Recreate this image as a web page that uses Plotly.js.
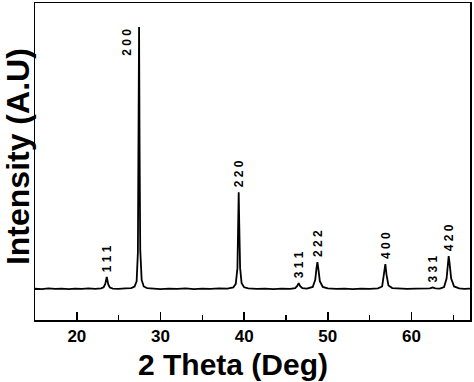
<!DOCTYPE html>
<html>
<head>
<meta charset="utf-8">
<script src="https://cdn.plot.ly/plotly-3.0.1.min.js"></script>
<style>html,body{margin:0;padding:0;background:#fff;}#chart{width:474px;height:382px;}</style>
</head>
<body>
<div id="chart"></div>
<script>
// XRD pattern: 2θ (deg) vs intensity (arbitrary units, baseline = 0)
var twoTheta = [
  15.0, 15.8, 16.6, 17.4, 18.2, 19.0, 19.8, 20.6, 21.4, 22.2,
  22.9, 23.2, 23.4, 23.58, 23.76, 23.95, 24.3, 25.0, 25.8, 26.5,
  26.9, 27.15, 27.3, 27.38, 27.44, 27.5, 27.58, 27.75, 28.0, 28.4,
  29.2, 30.0, 31.0, 32.0, 33.0, 34.0, 35.0, 36.0, 37.0, 38.0,
  38.7, 39.0, 39.2, 39.3, 39.35, 39.42, 39.52, 39.7, 40.0, 40.5,
  41.5, 42.5, 43.5, 44.5, 45.5, 46.1, 46.35, 46.52, 46.7, 46.95,
  47.5, 48.2, 48.5, 48.65, 48.76, 48.88, 49.05, 49.4, 50.0, 51.0,
  52.0, 53.0, 54.0, 55.0, 56.0, 56.5, 56.72, 56.88, 57.02, 57.25,
  57.7, 58.5, 59.5, 60.5, 61.5, 62.2, 62.53, 62.85, 63.4, 63.9,
  64.2, 64.35, 64.45, 64.57, 64.75, 65.1, 65.7, 66.3, 67.0
];
var intensity = [
  2, 0, 3, 1, 2, 0, 2, 1, 3, 1,
  3, 7, 20, 46, 18, 6, 2, 1, 3, 4,
  10, 30, 140, 520, 1000, 540, 150, 35, 10, 4,
  2, 0, 2, 1, 3, 0, 2, 1, 3, 2,
  6, 20, 80, 250, 370, 240, 80, 22, 7, 3,
  1, 2, 0, 2, 1, 4, 12, 23, 11, 4,
  2, 8, 35, 80, 103, 75, 30, 8, 3, 1,
  2, 0, 2, 1, 3, 10, 50, 95, 55, 14,
  4, 2, 1, 2, 1, 3, 6, 3, 2, 8,
  40, 95, 126, 95, 40, 10, 3, 1, 2
];
var peakHkl = ['1 1 1', '2 0 0', '2 2 0', '3 1 1', '2 2 2', '4 0 0', '3 3 1', '4 2 0'];
var peakPos = [23.58, 27.44, 39.35, 46.52, 48.76, 56.88, 62.53, 64.45];
var peakInt = [46, 1000, 370, 23, 103, 95, 6, 126];
var xTickVals = [20, 30, 40, 50, 60];

var FONT = 'Liberation Sans, Arial, Helvetica, sans-serif';

var annotations = peakHkl.map(function (t, i) {
  var tall = peakInt[i] === Math.max.apply(null, peakInt);
  return {
    x: peakPos[i], y: peakInt[i], xref: 'x', yref: 'y',
    text: t, showarrow: false, textangle: -90,
    xanchor: tall ? 'right' : 'center',
    yanchor: tall ? 'top' : 'bottom',
    xshift: tall ? -3 : 0, yshift: tall ? 0 : 3,
    font: {family: FONT, size: 12, color: '#000', weight: 'bold'}
  };
});
annotations.push({
  xref: 'paper', yref: 'paper', x: -0.039, y: 0.514,
  text: 'Intensity (A.U)', showarrow: false, textangle: -90,
  xanchor: 'center', yanchor: 'middle',
  font: {family: FONT, size: 32, color: '#000', weight: 'bold'}
});
annotations.push({
  xref: 'paper', yref: 'paper', x: 0.455, y: -0.139,
  text: '2 Theta (Deg)', showarrow: false,
  xanchor: 'center', yanchor: 'middle',
  font: {family: FONT, size: 30, color: '#000', weight: 'bold'}
});

var trace = {
  x: twoTheta, y: intensity, type: 'scatter', mode: 'lines',
  line: {color: '#000', width: 1.8}, hoverinfo: 'x+y'
};

var layout = {
  width: 474, height: 382,
  margin: {l: 35, r: 4, t: 3, b: 62, pad: 0},
  paper_bgcolor: '#fff', plot_bgcolor: '#fff',
  showlegend: false,
  xaxis: {
    range: [15, 67], tickvals: xTickVals, ticks: 'inside', ticklen: 8, tickwidth: 1.5,
    tickcolor: '#000', showline: true, linecolor: '#000', linewidth: 1.5, mirror: true,
    showgrid: false, zeroline: false,
    tickfont: {family: FONT, size: 17, color: '#000', weight: 'bold'},
    minor: {dtick: 5, tick0: 15, ticks: 'inside', ticklen: 5, tickwidth: 1.2, tickcolor: '#000', showgrid: false}
  },
  yaxis: {
    range: [-118, 1092], tickvals: [0], showticklabels: false, ticks: 'inside', ticklen: 5,
    tickwidth: 1.2, tickcolor: '#000',
    showline: true, linecolor: '#000', linewidth: 1.5, mirror: true,
    showgrid: false, zeroline: false
  },
  annotations: annotations
};

Plotly.newPlot('chart', [trace], layout, {displayModeBar: false, staticPlot: true});
</script>
</body>
</html>
